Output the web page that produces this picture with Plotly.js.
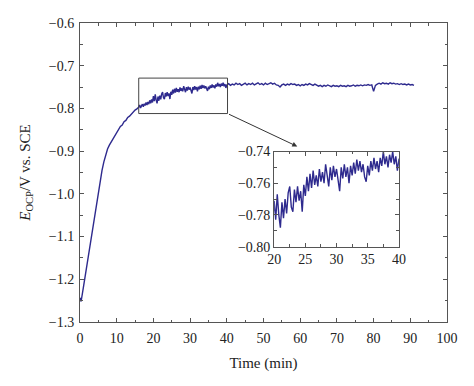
<!DOCTYPE html>
<html>
<head>
<meta charset="utf-8">
<script src="https://cdn.plot.ly/plotly-3.0.1.min.js"></script>
<style>html,body{margin:0;padding:0;background:#fff;}#chart{width:474px;height:386px;}</style>
</head>
<body>
<div id="chart"></div>
<script>
// Time (min)
var timeMin = [
 0, 0.3, 1, 2, 3, 4, 5, 6, 6.5, 7, 7.5, 8, 8.5, 9, 9.5, 10, 10.5, 11, 11.5, 12, 12.5, 13, 13.5, 14, 14.5, 15, 15.5,
 16, 16.25, 16.5, 16.75, 17, 17.25, 17.5, 17.75, 18, 18.25, 18.5, 18.75, 19, 19.25, 19.5, 19.75,
 20, 20.25, 20.5, 20.75, 21, 21.25, 21.5, 21.75, 22, 22.25, 22.5, 22.75, 23, 23.25, 23.5, 23.75,
 24, 24.25, 24.5, 24.75, 25, 25.25, 25.5, 25.75, 26, 26.25, 26.5, 26.75, 27, 27.25, 27.5, 27.75,
 28, 28.25, 28.5, 28.75, 29, 29.25, 29.5, 29.75, 30, 30.25, 30.5, 30.75, 31, 31.25, 31.5, 31.75,
 32, 32.25, 32.5, 32.75, 33, 33.25, 33.5, 33.75, 34, 34.25, 34.5, 34.75, 35, 35.25, 35.5, 35.75,
 36, 36.25, 36.5, 36.75, 37, 37.25, 37.5, 37.75, 38, 38.25, 38.5, 38.75, 39, 39.25, 39.5, 39.75, 40,
 40.5, 41, 41.5, 42, 42.5, 43, 43.5, 44, 44.5, 45, 45.5, 46, 46.5, 47, 47.5, 48, 48.5, 49, 49.5, 50,
 50.5, 51, 51.5, 52, 52.5, 53, 53.5, 54, 54.5, 55, 55.5, 56, 56.5, 57, 57.5, 58, 58.5, 59, 59.5, 60,
 60.5, 61, 61.5, 62, 62.5, 63, 63.5, 64, 64.5, 65, 65.5, 66, 66.5, 67, 67.5, 68, 68.5, 69, 69.5, 70,
 70.5, 71, 71.5, 72, 72.5, 73, 73.5, 74, 74.5, 75, 75.5, 76, 76.5, 77, 77.5, 78, 78.5, 79, 79.5, 80,
 80.5, 81, 81.5, 82, 82.5, 83, 83.5, 84, 84.5, 85, 85.5, 86, 86.5, 87, 87.5, 88, 88.5, 89, 89.5, 90,
 90.5, 91
];
// E_OCP (V vs. SCE)
var eocp = [
 -1.243, -1.252, -1.215, -1.160, -1.105, -1.050, -0.995, -0.945, -0.925, -0.908, -0.895, -0.886, -0.879, -0.871, -0.866, -0.856, -0.852, -0.842, -0.839, -0.831, -0.828, -0.821, -0.818, -0.813, -0.809, -0.804, -0.801,
 -0.797, -0.792, -0.799, -0.794, -0.790, -0.796, -0.789, -0.793, -0.786, -0.792, -0.785, -0.790, -0.781, -0.788, -0.779, -0.786,
 -0.771, -0.783, -0.767, -0.780, -0.788, -0.772, -0.782, -0.770, -0.779, -0.766, -0.762, -0.775, -0.778, -0.764, -0.772, -0.762,
 -0.771, -0.765, -0.778, -0.761, -0.768, -0.756, -0.765, -0.754, -0.763, -0.752, -0.761, -0.755, -0.762, -0.751, -0.759, -0.753,
 -0.760, -0.748, -0.757, -0.762, -0.750, -0.758, -0.749, -0.756, -0.751, -0.759, -0.765, -0.750, -0.757, -0.748, -0.756, -0.750,
 -0.760, -0.749, -0.755, -0.747, -0.754, -0.745, -0.752, -0.746, -0.753, -0.748, -0.756, -0.759, -0.749, -0.755, -0.746, -0.752,
 -0.744, -0.751, -0.746, -0.753, -0.744, -0.749, -0.740, -0.748, -0.743, -0.750, -0.742, -0.747, -0.740, -0.748, -0.743, -0.752, -0.745,
 -0.742, -0.746, -0.743, -0.745, -0.741, -0.744, -0.742, -0.746, -0.743, -0.741, -0.745, -0.742, -0.744, -0.741, -0.745, -0.743, -0.740, -0.744, -0.742, -0.745,
 -0.741, -0.744, -0.742, -0.740, -0.743, -0.741, -0.745, -0.746, -0.750, -0.745, -0.743, -0.746, -0.743, -0.745, -0.742, -0.744, -0.743, -0.746, -0.744, -0.747,
 -0.744, -0.746, -0.743, -0.745, -0.742, -0.744, -0.746, -0.743, -0.745, -0.748, -0.746, -0.749, -0.746, -0.748, -0.745, -0.747, -0.749, -0.746, -0.748, -0.747,
 -0.749, -0.746, -0.748, -0.747, -0.749, -0.746, -0.748, -0.747, -0.745, -0.748, -0.746, -0.747, -0.745, -0.747, -0.745, -0.746, -0.744, -0.746, -0.745, -0.760,
 -0.746, -0.743, -0.741, -0.743, -0.740, -0.742, -0.741, -0.743, -0.740, -0.742, -0.741, -0.743, -0.742, -0.744, -0.742, -0.744, -0.743, -0.745, -0.743, -0.745,
 -0.744, -0.746
];
// Zoom box and arrow (data units)
var boxX = [16, 40.2];
var boxY = [-0.812, -0.729];
var arrowTail = [40.2, -0.812];
var arrowHead = [59.2, -0.889];

var lineColor = '#2e2a8e';
var axisColor = '#555';
var fontFam = "'Liberation Serif', serif";
var textColor = '#222';

var traces = [
  {x: timeMin, y: eocp, type: 'scatter', mode: 'lines', line: {color: lineColor, width: 1.4}, xaxis: 'x', yaxis: 'y', hoverinfo: 'skip'},
  {x: timeMin, y: eocp, type: 'scatter', mode: 'lines', line: {color: lineColor, width: 1.4}, xaxis: 'x2', yaxis: 'y2', hoverinfo: 'skip'}
];

function ax(extra) {
  var base = {showline: true, linecolor: axisColor, linewidth: 1, mirror: 'ticks', ticks: 'inside', ticklen: 4, tickcolor: axisColor,
    showgrid: false, zeroline: false, tickfont: {family: fontFam, size: 14, color: textColor}};
  for (var k in extra) base[k] = extra[k];
  return base;
}

var layout = {
  width: 474, height: 386,
  margin: {l: 80, r: 27, t: 23, b: 64},
  paper_bgcolor: '#fff', plot_bgcolor: '#fff',
  showlegend: false,
  font: {family: fontFam, color: textColor},
  xaxis: ax({range: [0, 100], dtick: 10, tick0: 0, ticklabelstandoff: 3,
    minor: {ticks: 'inside', dtick: 5, ticklen: 2.5, tickcolor: axisColor},
    title: {text: 'Time (min)', font: {family: fontFam, size: 15, color: textColor}, standoff: 12}}),
  yaxis: ax({range: [-1.3, -0.6], dtick: 0.1, tick0: -1.3, tickformat: '.1f', ticklabelstandoff: 2,
    minor: {ticks: 'inside', dtick: 0.05, ticklen: 2.5, tickcolor: axisColor},
    title: {text: '<i>E</i><sub>OCP</sub>/V vs. SCE', font: {family: fontFam, size: 15, color: textColor}, standoff: 14}}),
  xaxis2: ax({domain: [0.529, 0.869], anchor: 'y2', range: [20, 40], dtick: 5, tick0: 20,
    minor: {ticks: 'inside', dtick: 2.5, ticklen: 2.5, tickcolor: axisColor}}),
  yaxis2: ax({domain: [0.252, 0.570], anchor: 'x2', range: [-0.80, -0.74], dtick: 0.02, tick0: -0.80, tickformat: '.2f',
    minor: {ticks: 'inside', dtick: 0.01, ticklen: 2.5, tickcolor: axisColor}}),
  shapes: [
    {type: 'rect', xref: 'x', yref: 'y', x0: boxX[0], x1: boxX[1], y0: boxY[0], y1: boxY[1], line: {color: '#444', width: 1}}
  ],
  annotations: [
    {xref: 'x', yref: 'y', axref: 'x', ayref: 'y', x: arrowHead[0], y: arrowHead[1], ax: arrowTail[0], ay: arrowTail[1],
     text: '', showarrow: true, arrowhead: 2, arrowsize: 1, arrowwidth: 1, arrowcolor: '#333'}
  ]
};

Plotly.newPlot('chart', traces, layout, {staticPlot: true, displayModeBar: false});
</script>
</body>
</html>
